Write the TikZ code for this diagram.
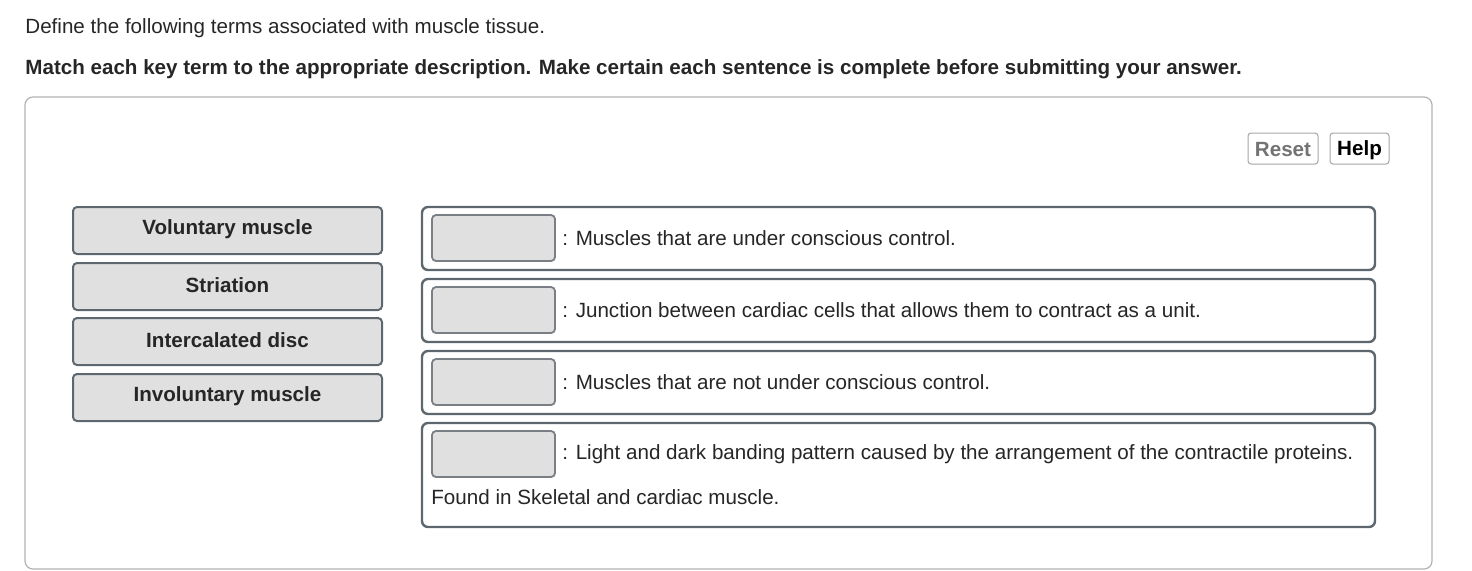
\documentclass[tikz,border=0pt]{standalone}
\usepackage{fontspec}
\setmainfont{Liberation Sans}
\definecolor{bord}{HTML}{5F676E}
\definecolor{slotb}{HTML}{7A7F86}
\begin{document}
\begin{tikzpicture}[x=0.5pt,y=-0.5pt,
  txt/.style={inner sep=0pt,anchor=west,font=\fontsize{10.3}{12}\selectfont,text=black!85},
  bf/.style={font=\fontsize{10.3}{12}\selectfont\bfseries},
  term/.style={draw=bord,line width=1pt,fill=black!12,rounded corners=2pt},
  slot/.style={draw=slotb,line width=0.9pt,fill=black!12,rounded corners=2pt},
  row/.style={draw=bord,line width=1.2pt,fill=white,rounded corners=3pt},
  btn/.style={draw=black!35,line width=0.5pt,fill=white,rounded corners=1.5pt}]
\useasboundingbox (0,0) rectangle (1472,570);
\node[txt] (t1) at (25,28) {Define the following terms associated with muscle tissue.};
\node[txt,bf] (t2) at (25,69) {Match each key term to the appropriate description. Make certain each sentence is complete before submitting your answer.};
\draw[draw=black!30,line width=0.6pt,rounded corners=4pt] (25,97) rectangle (1432,569);
\draw[btn] (1248,133) rectangle (1318,164);
\node[txt,anchor=center,bf,text=black!55] (reset) at (1283,150) {Reset};
\draw[btn] (1330,133) rectangle (1389,164);
\node[txt,anchor=center,bf,text=black] (help) at (1359.5,150) {Help};
\foreach \ya/\yb/\lab [count=\i] in {207/254/Voluntary muscle,263/310/Striation,318/365/Intercalated disc,374/421/Involuntary muscle}{
  \draw[term] (73,\ya) rectangle (382,\yb);
  \node[txt,anchor=center,bf] (k\i) at (227.5,{(\ya+\yb)/2-1}) {\lab};
}
\foreach \ya/\yb/\lab [count=\i] in {207/270/{: Muscles that are under conscious control.},279/342/{: Junction between cardiac cells that allows them to contract as a unit.},351/414/{: Muscles that are not under conscious control.},423/527/{: Light and dark banding pattern caused by the arrangement of the contractile proteins.}}{
  \draw[row] (422,\ya) rectangle (1375,\yb);
  \draw[slot] (432,\ya+8) rectangle (555,\ya+54);
  \node[txt] (d\i) at (562,\ya+31) {\lab};
}
\node[txt] (d5) at (431,497) {Found in Skeletal and cardiac muscle.};
\end{tikzpicture}
\end{document}
